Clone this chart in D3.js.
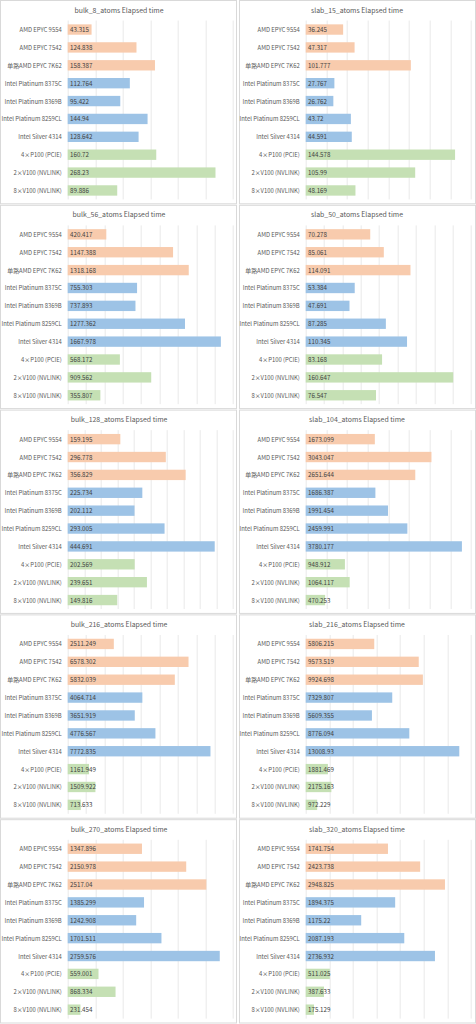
<!DOCTYPE html>
<html>
<head>
<meta charset="utf-8">
<script src="https://cdn.jsdelivr.net/npm/d3@7"></script>
<style>
    body { margin: 0; background: #ffffff; }
    svg { display: block; }
</style>
</head>
<body>
<div id="my_dataviz"></div>
<script>
/* category names and which hardware group each one belongs to */
const categories = ["AMD EPYC 9554", "AMD EPYC 7542", "单路AMD EPYC 7K62", "Intel Platinum 8375C", "Intel Platinum 8369B",
    "Intel Platinum 8259CL", "Intel Silver 4314", "4×P100 (PCIE)", "2×V100 (NVLINK)", "8×V100 (NVLINK)"];
const groups = ["amd", "amd", "amd", "intel", "intel", "intel", "intel", "gpu", "gpu", "gpu"];

/* elapsed time per system, one array per benchmark */
const bulk_8 = [43.315, 124.838, 158.387, 112.764, 95.422, 144.94, 128.642, 160.72, 268.23, 89.886];
const slab_15 = [36.245, 47.317, 101.777, 27.767, 26.762, 43.72, 44.591, 144.578, 105.99, 48.169];
const bulk_56 = [420.417, 1147.388, 1318.168, 755.303, 737.893, 1277.362, 1667.978, 568.172, 909.562, 355.807];
const slab_50 = [70.278, 85.061, 114.091, 53.384, 47.691, 87.285, 110.345, 83.168, 160.647, 76.547];
const bulk_128 = [159.195, 296.778, 356.829, 225.734, 202.112, 293.005, 444.691, 202.569, 239.651, 149.816];
const slab_104 = [1673.099, 3043.047, 2651.644, 1686.387, 1991.454, 2459.991, 3780.177, 948.912, 1064.117, 470.253];
const bulk_216 = [2511.249, 6578.302, 5832.039, 4064.714, 3651.919, 4776.567, 7772.835, 1161.949, 1509.922, 713.633];
const slab_216 = [5806.215, 9573.519, 9924.698, 7329.807, 5609.355, 8776.094, 13008.93, 1881.469, 2175.163, 972.229];
const bulk_270 = [1347.896, 2150.978, 2517.04, 1385.299, 1242.908, 1701.511, 2759.576, 559.001, 868.334, 231.454];
const slab_320 = [1741.754, 2423.738, 2948.825, 1894.375, 1175.22, 2087.193, 2736.932, 511.025, 387.633, 175.129];

/* chart titles, in reading order (left to right, top to bottom) */
const titles = ["bulk_8_atoms Elapsed time", "slab_15_atoms Elapsed time", "bulk_56_atoms Elapsed time",
    "slab_50_atoms Elapsed time", "bulk_128_atoms Elapsed time", "slab_104_atoms Elapsed time",
    "bulk_216_atoms Elapsed time", "slab_216_atoms Elapsed time", "bulk_270_atoms Elapsed time",
    "slab_320_atoms Elapsed time"];
const series = [bulk_8, slab_15, bulk_56, slab_50, bulk_128, slab_104, bulk_216, slab_216, bulk_270, slab_320];

/* value axis (hidden) max and gridline step of each chart */
const axisMax = [300, 160, 1800, 180, 500, 4000, 9000, 14000, 3000, 3500];
const axisStep = [50, 20, 200, 20, 50, 500, 1000, 2000, 500, 500];

const colors = { amd: "#f8cbad", intel: "#9dc3e6", gpu: "#c5e0b4" };
const font = "'Noto Sans CJK SC', 'Noto Sans', sans-serif";

const totalWidth = 476, totalHeight = 1024;
const panelW = 238, panelH = 204.8;
/* plot area inside each panel */
const margin = {
        top: 20.6,
        left: 67.7,
        right: 5,
        bottom: 5.4
    },
    width = 233 - margin.left,
    height = panelH - margin.top - margin.bottom;

const svg = d3.select("#my_dataviz")
    .append("svg")
    .attr("width", totalWidth)
    .attr("height", totalHeight);

function drawPanel(idx) {
    const col = idx % 2, row = Math.floor(idx / 2);
    const values = series[idx];
    const g = svg.append("g")
        .attr("transform", `translate(${col * panelW}, ${row * panelH})`);

    /* panel frame */
    g.append("rect")
        .attr("x", col === 0 ? 0.5 : 1.5)
        .attr("y", 0.5)
        .attr("width", panelW - 2)
        .attr("height", panelH - 1.5)
        .attr("fill", "#ffffff")
        .attr("stroke", "#d9d9d9")
        .attr("stroke-width", 1);

    g.append("text")
        .attr("x", 119)
        .attr("y", 9.6)
        .attr("text-anchor", "middle")
        .attr("dominant-baseline", "central")
        .style("font-family", font)
        .style("font-size", "6.9px")
        .style("fill", "#595959")
        .text(titles[idx]);

    const plot = g.append("g")
        .attr("transform", `translate(${margin.left}, ${margin.top})`);

    const x = d3.scaleLinear()
        .domain([0, axisMax[idx]])
        .range([0, width]);
    const y = d3.scaleBand()
        .domain(categories)
        .range([0, height])
        .paddingInner(0.42)
        .paddingOuter(0.21);

    /* vertical gridlines */
    plot.append("g")
        .selectAll("line")
        .data(d3.range(0, axisMax[idx] + axisStep[idx] / 2, axisStep[idx]))
        .join("line")
        .attr("x1", d => Math.round(x(d)) + 0.5)
        .attr("x2", d => Math.round(x(d)) + 0.5)
        .attr("y1", 0)
        .attr("y2", height)
        .attr("stroke", "#e3e3e3")
        .attr("stroke-width", 0.8);

    /* category axis labels */
    plot.append("g")
        .selectAll("text")
        .data(categories)
        .join("text")
        .attr("x", -6)
        .attr("y", d => y(d) + y.bandwidth() / 2)
        .attr("text-anchor", "end")
        .attr("dominant-baseline", "central")
        .style("font-family", font)
        .style("font-size", "5.9px")
        .style("fill", "#595959")
        .text(d => d);

    plot.append("g")
        .selectAll("rect")
        .data(values)
        .join("rect")
        .attr("x", x(0))
        .attr("y", (d, i) => y(categories[i]))
        .attr("width", d => x(d) - x(0))
        .attr("height", y.bandwidth())
        .attr("fill", (d, i) => colors[groups[i]]);

    /* data labels at inside base */
    plot.append("g")
        .selectAll("text")
        .data(values)
        .join("text")
        .attr("x", x(0) + 2.4)
        .attr("y", (d, i) => y(categories[i]) + y.bandwidth() / 2)
        .attr("dominant-baseline", "central")
        .style("font-family", font)
        .style("font-size", "6.2px")
        .style("fill", "#404040")
        .text(d => String(d));
}

for (let i = 0; i < series.length; i++) {
    drawPanel(i);
}
</script>
</body>
</html>
